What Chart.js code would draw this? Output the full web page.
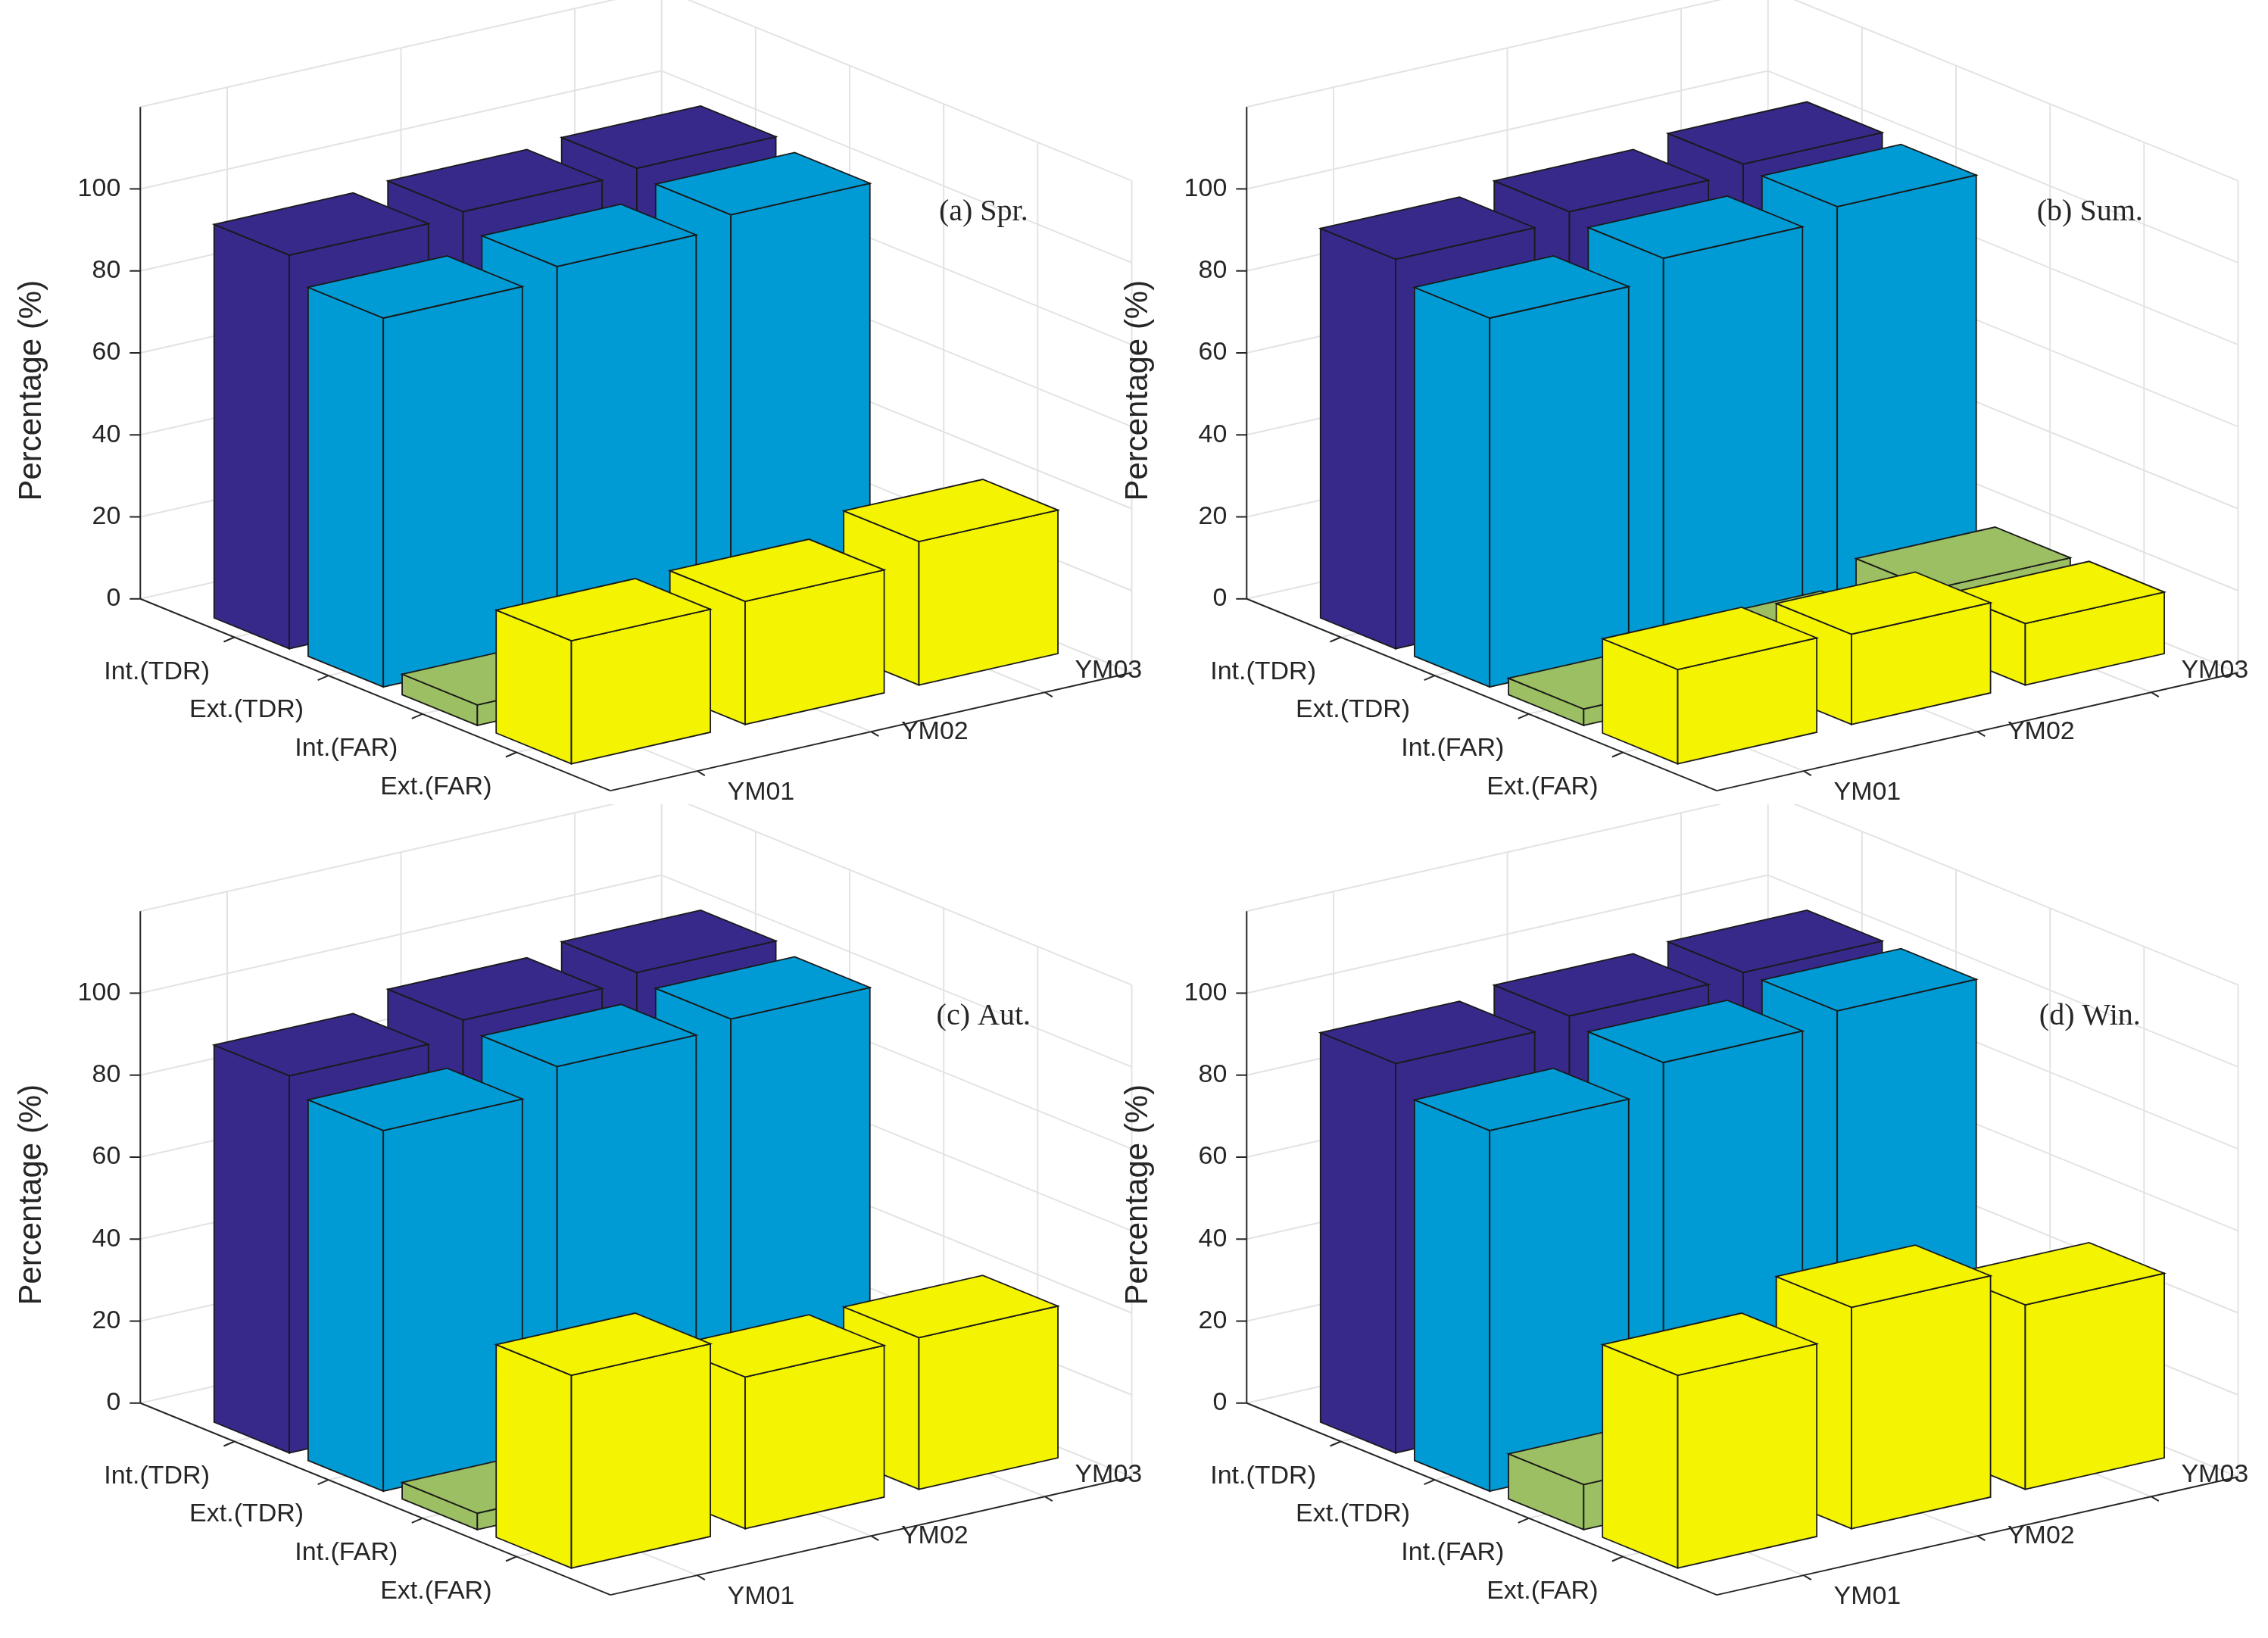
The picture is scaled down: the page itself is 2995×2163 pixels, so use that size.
<!DOCTYPE html>
<html><head><meta charset="utf-8">
<script src="https://cdn.jsdelivr.net/npm/chart.js@4"></script>
<style>
html,body{margin:0;background:#fff;}
body{width:2995px;height:2163px;position:relative;overflow:hidden;}
.p{position:absolute;width:1509px;height:1075px;}
</style></head><body>
<div class="p" style="left:0;top:0"><canvas id="c0"></canvas></div>
<div class="p" style="left:1461px;top:0"><canvas id="c1"></canvas></div>
<div class="p" style="left:0;top:1062px"><canvas id="c2"></canvas></div>
<div class="p" style="left:1461px;top:1062px"><canvas id="c3"></canvas></div>
<script>
const categories = ['YM01', 'YM02', 'YM03'];
const rows = ['Int.(TDR)', 'Ext.(TDR)', 'Int.(FAR)', 'Ext.(FAR)'];
const zTicks = [0, 20, 40, 60, 80, 100];
const titles = ['(a) Spr.', '(b) Sum.', '(c) Aut.', '(d) Win.'];
const rowColors = ['#36298a', '#009bd4', '#9bbf62', '#f4f400'];

// [Int.(TDR), Ext.(TDR), Int.(FAR), Ext.(FAR)] per season, one value per category
const springData = [[96, 97, 98], [90, 93, 96], [5, 8, 10], [30, 30, 35]];
const summerData = [[95, 97, 99], [90, 95, 98], [4, 8, 14], [23, 22, 15]];
const autumnData = [[92, 96, 98], [88, 94, 96], [4, 5, 5], [47, 37, 37]];
const winterData = [[95, 97, 98], [88, 95, 98], [11, 12, 12], [47, 54, 45]];
const seasons = [springData, summerData, autumnData, winterData];

// projection in data units (1 unit = 1 % of height)
const O = {u: 34.4, v: 52.5};
const CU = {u: 42.6, v: 9.6};
const RU = {u: 23.05, v: -9.36};
const ZMAX = 120;
const NR = 5;
const S = 1.91;

function proj(c, r, z) {
  return {u: O.u + c * CU.u + r * RU.u, v: O.v + z + c * CU.v + r * RU.v};
}

const bars3d = {
  id: 'bars3d',
  afterDraw(chart) {
    const {ctx, scales: {x, y}} = chart;
    const data = chart.data.datasets[0].data;
    const P = (c, r, z) => { const p = proj(c, r, z); return [x.getPixelForValue(p.u), y.getPixelForValue(p.v)]; };
    const line = (a, b, col, w) => { ctx.strokeStyle = col; ctx.lineWidth = w; ctx.beginPath(); ctx.moveTo(a[0], a[1]); ctx.lineTo(b[0], b[1]); ctx.stroke(); };
    const poly = (pts, fill) => {
      ctx.beginPath(); ctx.moveTo(pts[0][0], pts[0][1]);
      pts.slice(1).forEach(p => ctx.lineTo(p[0], p[1])); ctx.closePath();
      ctx.fillStyle = fill; ctx.fill(); ctx.strokeStyle = '#1a1a1a'; ctx.lineWidth = 1.8; ctx.stroke();
    };
    const nc = categories.length, nr = NR;
    const grid = '#e3e3e3';
    ctx.save();
    // walls and floor grid
    zTicks.forEach(z => { line(P(0, 0, z), P(nc, 0, z), grid, 2); line(P(nc, 0, z), P(nc, nr, z), grid, 2); });
    for (let c = 0; c < nc; c++) { line(P(c + 0.5, 0, 0), P(c + 0.5, 0, ZMAX), grid, 2); line(P(c + 0.5, 0, 0), P(c + 0.5, nr, 0), grid, 2); }
    for (let r = 1; r <= rows.length; r++) { line(P(nc, r, 0), P(nc, r, ZMAX), grid, 2); line(P(0, r, 0), P(nc, r, 0), grid, 2); }
    line(P(nc, 0, 0), P(nc, 0, ZMAX), grid, 2);
    line(P(nc, nr, 0), P(nc, nr, ZMAX), grid, 2);
    line(P(0, 0, ZMAX), P(nc, 0, ZMAX), grid, 2);
    line(P(nc, 0, ZMAX), P(nc, nr, ZMAX), grid, 2);
    // axes
    const ax = '#262626';
    line(P(0, 0, 0), P(0, 0, ZMAX), ax, 2);
    line(P(0, 0, 0), P(0, nr, 0), ax, 2);
    line(P(0, nr, 0), P(nc, nr, 0), ax, 2);
    ctx.font = '34px "Liberation Sans", Arial, sans-serif';
    ctx.textAlign = 'right'; ctx.textBaseline = 'middle';
    zTicks.forEach(z => { const p = P(0, 0, z); line(p, [p[0] - 14, p[1]], ax, 2); ctx.fillStyle = '#262626'; ctx.fillText(String(z), p[0] - 26, p[1]); });
    // bars: back rows first, far categories first
    const dw = 0.1;
    for (let r = 0; r < rows.length; r++) {
      for (let c = nc - 1; c >= 0; c--) {
        const h = data[r][c];
        const c0 = c + dw, c1 = c + 1 - dw, r0 = r + 0.6, r1 = r + 1.4;
        const col = rowColors[r];
        poly([P(c0, r0, 0), P(c0, r1, 0), P(c0, r1, h), P(c0, r0, h)], col);
        poly([P(c0, r1, 0), P(c1, r1, 0), P(c1, r1, h), P(c0, r1, h)], col);
        poly([P(c0, r0, h), P(c1, r0, h), P(c1, r1, h), P(c0, r1, h)], col);
      }
    }
    ctx.font = '34px "Liberation Sans", Arial, sans-serif';
    ctx.textAlign = 'right';
    rows.forEach((lab, r) => { const p = P(0, r + 1, 0); line(p, [p[0] - 14, p[1] + 6], ax, 2); ctx.fillStyle = '#262626'; ctx.fillText(lab, p[0] - 17 * S, p[1] + 24 * S); });
    ctx.textAlign = 'center';
    categories.forEach((lab, c) => { const p = P(c + 0.5, nr, 0); line(p, [p[0] + 10, p[1] + 6], ax, 2); ctx.fillStyle = '#262626'; ctx.fillText(lab, p[0] + 44 * S, p[1] + (15 - 15 * c) * S); });
    // y label
    ctx.save();
    ctx.translate(22 * S, 270 * S); ctx.rotate(-Math.PI / 2);
    ctx.font = '42px "Liberation Sans", Arial, sans-serif';
    ctx.fillText('Percentage (%)', 0, 0);
    ctx.restore();
    // title
    ctx.font = '40px "Liberation Serif", "Times New Roman", serif';
    ctx.fillText(chart.options.plugins.title.text, 680 * S, 147 * S);
    ctx.restore();
  }
};

seasons.forEach((d, i) => {
  new Chart(document.getElementById('c' + i), {
    type: 'scatter',
    data: {datasets: [{data: d, showLine: false, pointRadius: 0}]},
    options: {
      responsive: true, maintainAspectRatio: false, animation: false,
      layout: {padding: 0},
      parsing: false,
      plugins: {legend: {display: false}, tooltip: {enabled: false}, title: {display: false, text: titles[i]}},
      scales: {
        x: {type: 'linear', display: false, min: 0, max: 790 / 2.82},
        y: {type: 'linear', display: false, min: 0, max: 560 / 2.82}
      }
    },
    plugins: [bars3d]
  });
});
</script>
</body></html>
